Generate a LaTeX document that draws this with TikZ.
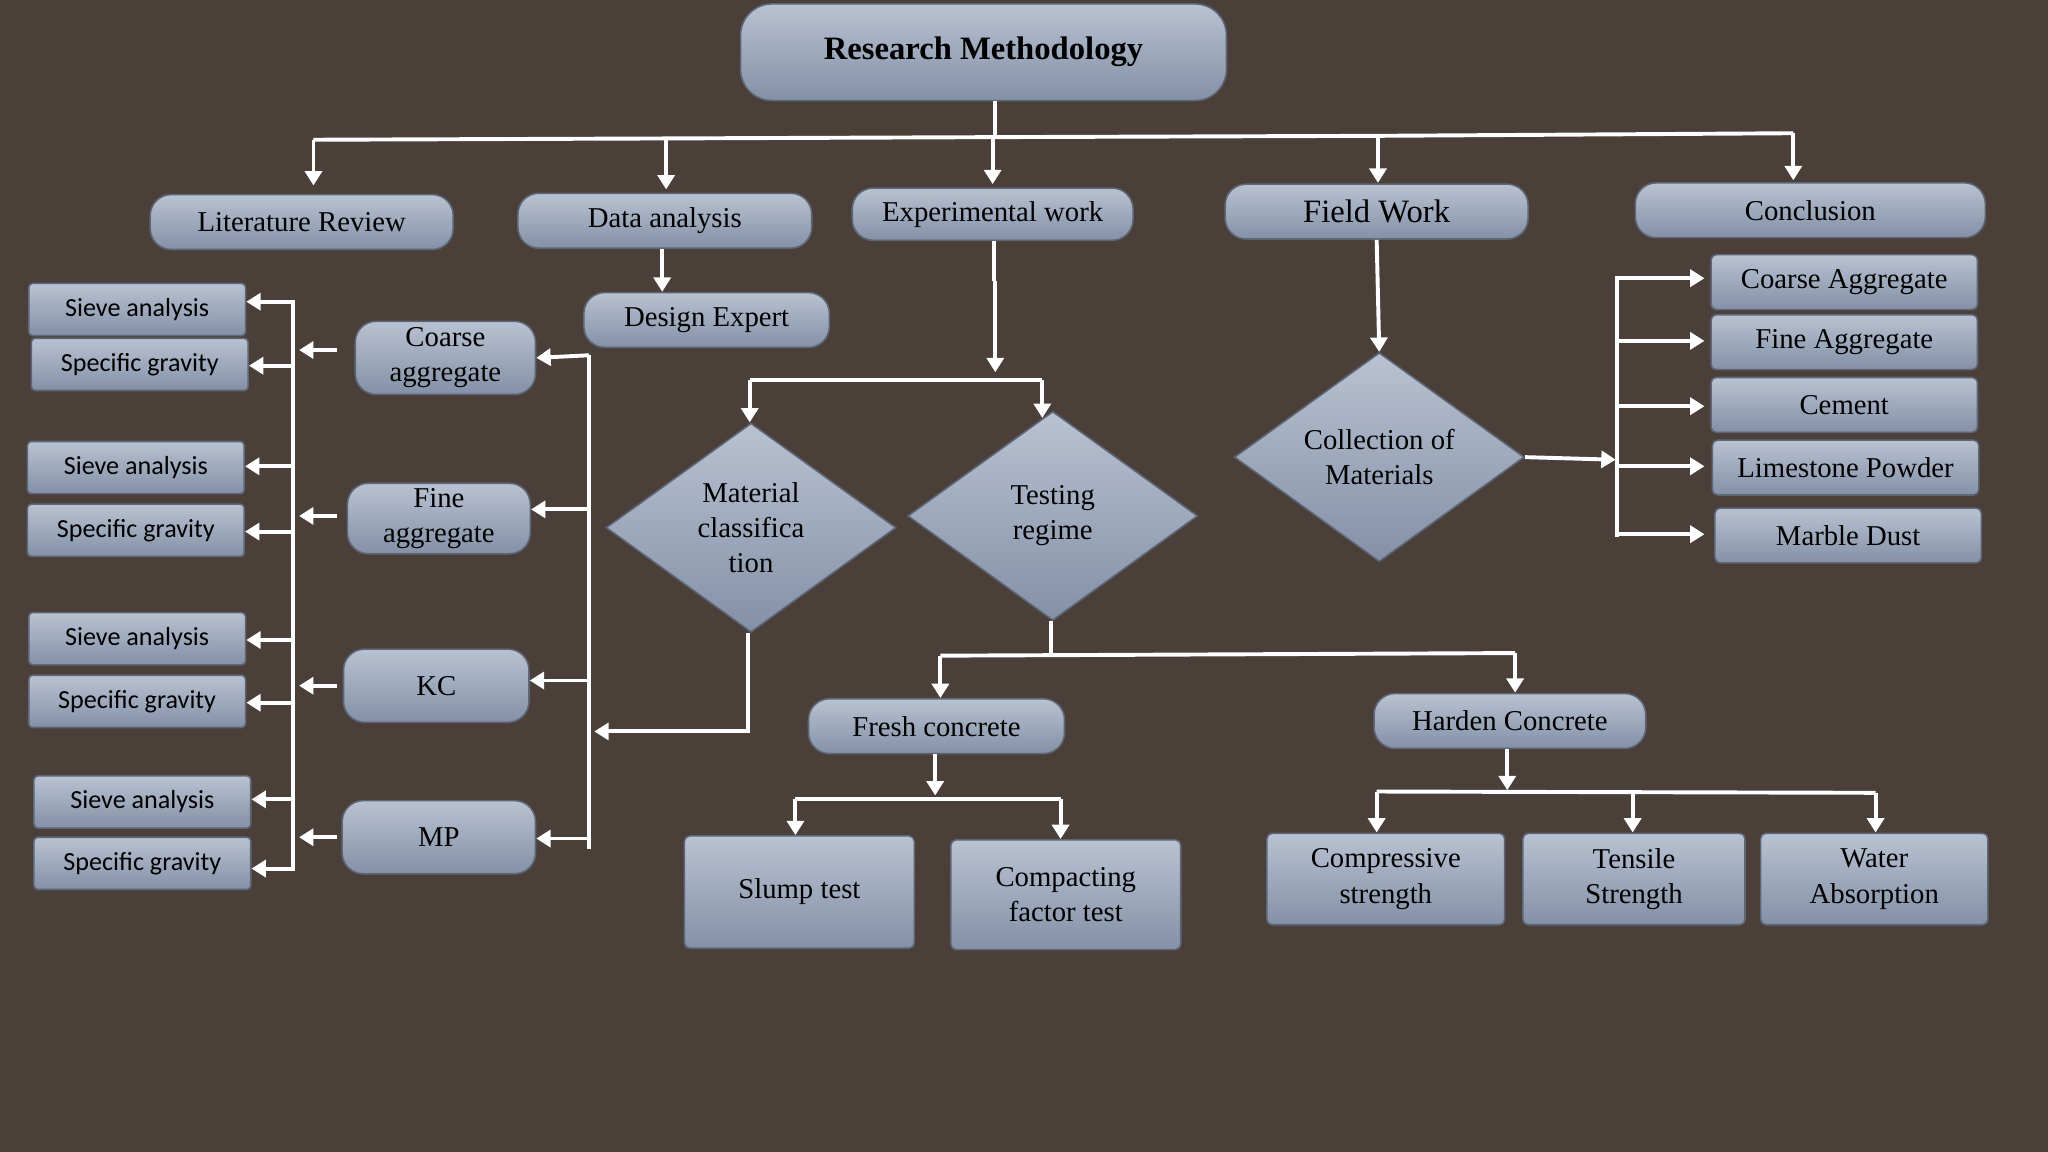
\documentclass[tikz,border=0pt]{standalone}
\usepackage{fontspec}
\setmainfont{Liberation Serif}
\newfontfamily\sansf{Carlito}
\usetikzlibrary{shapes.geometric,arrows.meta}
\definecolor{bg}{HTML}{4A3F39}
\definecolor{bxt}{HTML}{B9C2D2}
\definecolor{bxb}{HTML}{8390A6}
\definecolor{bxd}{HTML}{5E6676}
\begin{document}
\begin{tikzpicture}[x=1pt,y=-1pt,
 base/.style={top color=bxt,bottom color=bxb,draw=bxd,line width=1.2pt,text=black,inner sep=2pt,align=center,font=\fontsize{22}{27}\selectfont},
 pill/.style={base,rounded corners=16pt},
 rbox/.style={base,rounded corners=4pt},
 sbox/.style={base,rounded corners=3pt,minimum width=166pt,minimum height=40pt,font=\sansf\fontsize{20}{22}\selectfont},
 dia/.style={base,diamond,minimum width=222pt,minimum height=160pt,inner sep=0pt},
 ln/.style={white,line width=3pt},
 ar/.style={ln,-{Triangle[length=11pt,width=13pt]}}]
\fill[bg] (0,0) rectangle (1568,882);
\useasboundingbox (0,0) rectangle (1568,882);
% title
\node[pill,rounded corners=24pt,minimum width=372pt,minimum height=74pt,font=\bfseries\fontsize{25}{28}\selectfont] (t) at (753,40) {Research Methodology};
% headers
\node[pill,minimum width=232pt,minimum height=42pt] (lr) at (231,170) {Literature Review};
\node[pill,minimum width=225pt,minimum height=42pt] (da) at (509,169) {Data analysis};
\node[pill,minimum width=215pt,minimum height=40pt] (ew) at (760,164) {Experimental work};
\node[pill,minimum width=232pt,minimum height=42pt,font=\fontsize{25}{28}\selectfont] (fw) at (1054,162) {Field Work};
\node[pill,minimum width=268pt,minimum height=42pt] (co) at (1386,161) {Conclusion};
\node[pill,minimum width=188pt,minimum height=42pt] (de) at (541,245) {Design Expert};
% top connectors
\coordinate (tj) at (762,105);
\coordinate (h1) at (240,107); \coordinate (h2) at (510,106); \coordinate (h3) at (760,105);
\coordinate (h4) at (1055,104); \coordinate (h5) at (1373,102);
\draw[ln] (t.south -| tj) -- (tj);
\draw[ln] (h1) -- (h2) -- (h3) -- (h4) -- (h5);
\draw[ar] (h1) -- (240,142);
\draw[ar] (h2) -- (510,145);
\draw[ar] (h3) -- (760,141);
\draw[ar] (h4) -- (1055,140);
\draw[ar] (h5) -- (1373,138);
\draw[ar] (da.south -| 507,0) -- (de.north -| 507,0);
% left pills
\node[pill,minimum width=138pt,minimum height=56pt,inner sep=0pt] (ca) at (341,274) {Coarse\\aggregate};
\node[pill,minimum width=140pt,minimum height=54pt,inner sep=0pt] (fa) at (336,397) {Fine\\aggregate};
\node[pill,minimum width=142pt,minimum height=56pt] (kc) at (334,525) {KC};
\node[pill,minimum width=148pt,minimum height=56pt] (mp) at (336,641) {MP};
% small boxes
\node[sbox] (s1) at (105,237) {Sieve analysis};
\node[sbox] (g1) at (107,279) {Specific gravity};
\node[sbox] (s2) at (104,358) {Sieve analysis};
\node[sbox] (g2) at (104,406) {Specific gravity};
\node[sbox] (s3) at (105,489) {Sieve analysis};
\node[sbox] (g3) at (105,537) {Specific gravity};
\node[sbox] (s4) at (109,614) {Sieve analysis};
\node[sbox] (g4) at (109,661) {Specific gravity};
% diamonds
\node[dia] (mc) at (575,404) {Material\\classifica\\tion};
\node[dia] (tr) at (806,395) {Testing\\regime};
\node[dia] (cm) at (1056,350) {Collection of\\Materials};
% right line of left section
\coordinate (r1) at (451,272); \coordinate (r2) at (451,650);
\draw[ln] (r1) -- (r2);
\draw[ar] (r1) -- (ca.east);
\draw[ar] (451,390) -- (fa.east |- 0,390);
\draw[ar] (451,521) -- (kc.east |- 0,521);
\draw[ar] (451,642) -- (mp.east |- 0,642);
\coordinate (m1) at (573,560);
\draw[ar] (mc.south -| 573,0) -- (m1) -- (455,560);
% left line
\coordinate (l1) at (224,230); \coordinate (l2) at (224,667);
\draw[ln] (l1) -- (l2);
\draw[ar] (258,268) -- (229,268);
\draw[ar] (258,395) -- (229,395);
\draw[ar] (258,525) -- (229,525);
\draw[ar] (258,641) -- (229,641);
\foreach \n/\y in {s1/231,g1/280,s2/357,g2/407,s3/490,g3/538,s4/612,g4/665}
  \draw[ar] (224,\y) -- (\n.east |- 0,\y);
% experimental
\coordinate (e1) at (761,291);
\draw[ln] (ew.south -| e1) -- (761,215);
\draw[ar] (762,215) -- (762,285);
\coordinate (e2) at (574,291); \coordinate (e3) at (798,291);
\draw[ln] (e2) -- (e3);
\draw[ar] (e2) -- (mc.north -| e2);
\draw[ar] (e3) -- (798,320);
% field work
\draw[ar] (fw.south -| 1054,0) -- (cm.north);
% conclusion list
\node[rbox,minimum width=204pt,minimum height=42pt] (c1) at (1412,216) {Coarse Aggregate};
\node[rbox,minimum width=204pt,minimum height=42pt] (c2) at (1412,262) {Fine Aggregate};
\node[rbox,minimum width=204pt,minimum height=42pt] (c3) at (1412,310) {Cement};
\node[rbox,minimum width=204pt,minimum height=42pt] (c4) at (1413,358) {Limestone Powder};
\node[rbox,minimum width=204pt,minimum height=42pt] (c5) at (1415,410) {Marble Dust};
\draw[ar] (cm.east) -- (1237,352);
\draw[ln] (1238,211) -- (1238,411);
\foreach \n/\y in {c1/213,c2/261,c3/311,c4/357,c5/409}
  \draw[ar] (1238,\y) -- (1305,\y);
% testing regime
\node[pill,minimum width=196pt,minimum height=42pt] (fc) at (717,556) {Fresh concrete};
\node[pill,minimum width=208pt,minimum height=42pt] (hc) at (1156,552) {Harden Concrete};
\coordinate (tj1) at (805,500);
\draw[ln] (tr.south -| tj1) -- (tj1);
\draw[ln] (720,502) -- (1160,500);
\draw[ar] (720,502) -- (fc.north -| 720,0);
\draw[ar] (1160,500) -- (hc.north -| 1160,0);
% fresh
\node[rbox,minimum width=176pt,minimum height=86pt] (sl) at (612,683) {Slump test};
\node[rbox,minimum width=176pt,minimum height=84pt] (cf) at (816,685) {Compacting\\factor test};
\draw[ar] (fc.south -| 716,0) -- (716,609);
\draw[ln] (609,612) -- (812,612);
\draw[ar] (609,612) -- (sl.north -| 609,0);
\draw[ar] (812,612) -- (cf.north -| 812,0);
% harden
\node[rbox,minimum width=182pt,minimum height=70pt] (cs) at (1061,673) {Compressive\\strength};
\node[rbox,minimum width=170pt,minimum height=70pt] (ts) at (1251,673) {Tensile\\Strength};
\node[rbox,minimum width=174pt,minimum height=70pt] (wa) at (1435,673) {Water\\Absorption};
\draw[ar] (hc.south -| 1154,0) -- (1154,605);
\draw[ln] (1054,606) -- (1436,607);
\draw[ar] (1054,606) -- (cs.north -| 1054,0);
\draw[ar] (1250,606) -- (ts.north -| 1250,0);
\draw[ar] (1436,607) -- (wa.north -| 1436,0);
\end{tikzpicture}
\end{document}
